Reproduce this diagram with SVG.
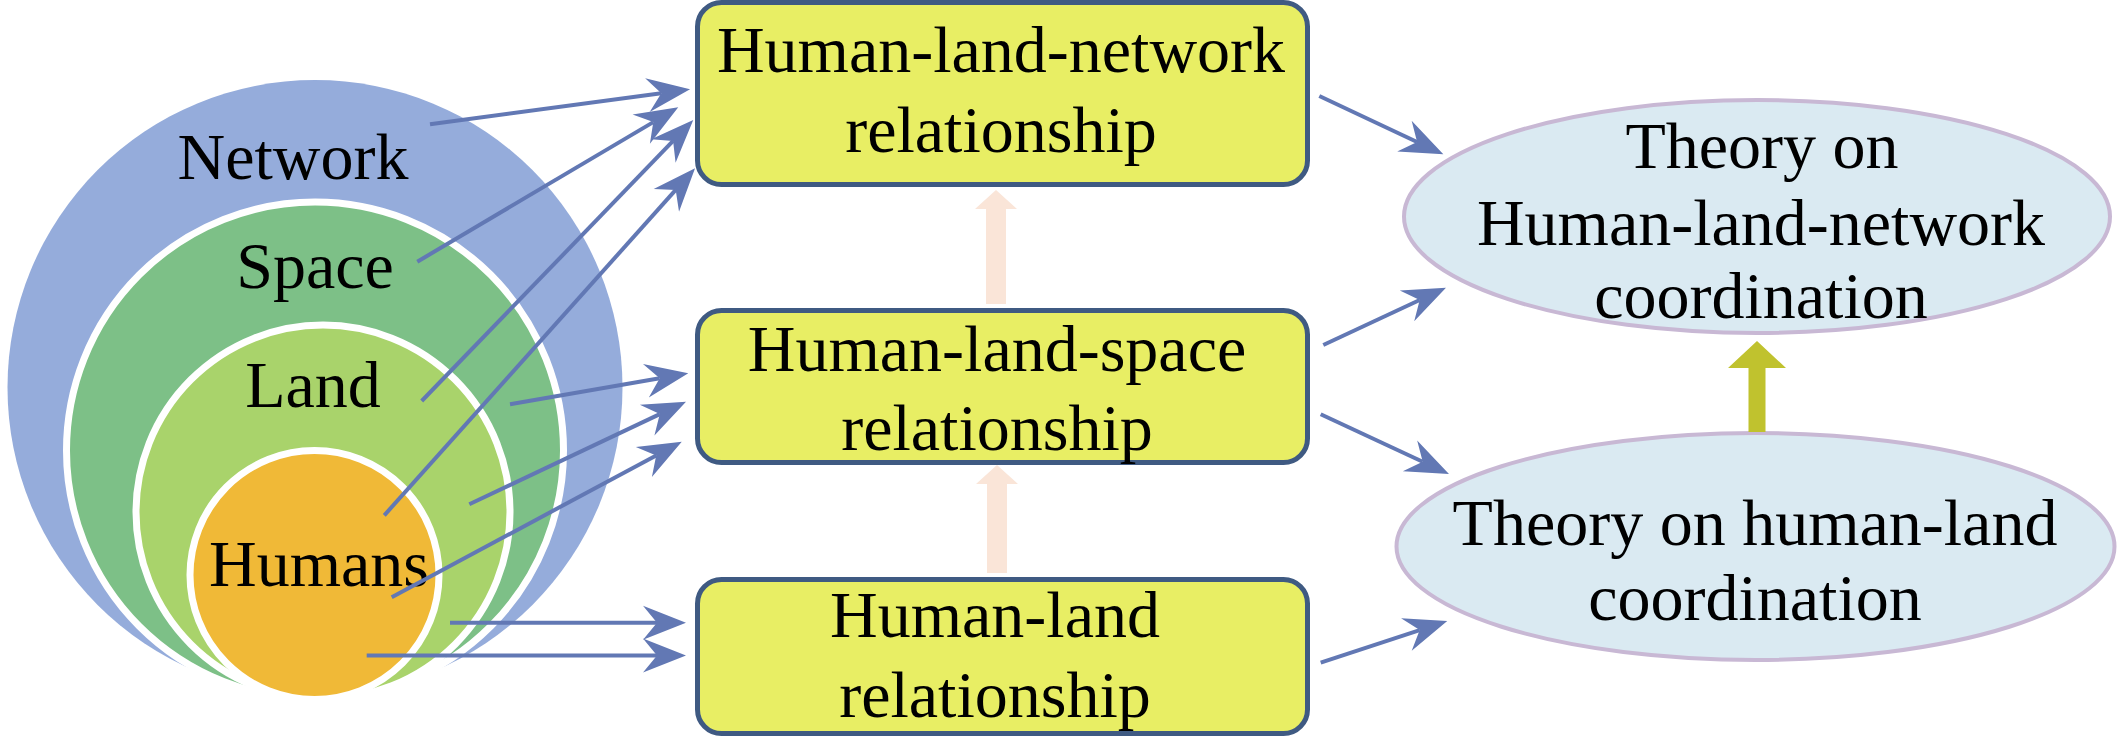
<svg xmlns="http://www.w3.org/2000/svg" width="2117" height="739" viewBox="0 0 2117 739">
<style>
.lbl{font-family:"Liberation Serif","Times New Roman",serif;font-size:66px;fill:#000;text-anchor:middle}
.ring{stroke:#fff;stroke-width:7}
.box{fill:#E8EE64;stroke:#3F5A82;stroke-width:5}
.ell{fill:#DAEAF2;stroke:#C8B8D4;stroke-width:4}
.con{stroke:#6278B4;stroke-width:4;fill:none;marker-end:url(#ah)}
</style>
<defs>
<marker id="ah" markerUnits="userSpaceOnUse" viewBox="-15 -18 45 36" markerWidth="45" markerHeight="36" refX="0" refY="0" orient="auto">
<path d="M29,0 L-14,-17 L0,0 L-14,17 Z" fill="#6278B4"/>
</marker>
</defs>
<rect width="2117" height="739" fill="#fff"/>
<g id="network">
<circle cx="315" cy="387.5" r="307.5" fill="#95ACDB"/>
<text class="lbl" x="293" y="179">Network</text>
</g>
<g id="space">
<circle class="ring" cx="315" cy="450.5" r="248.5" fill="#7DC087"/>
<text class="lbl" x="315" y="288">Space</text>
</g>
<g id="land">
<circle class="ring" cx="323" cy="512" r="187" fill="#A9D36B"/>
<text class="lbl" x="313" y="407">Land</text>
</g>
<g id="humans">
<circle class="ring" cx="314.5" cy="575" r="124.5" fill="#F0B937"/>
<text class="lbl" x="319" y="586">Humans</text>
</g>
<g id="hln-rel">
<rect class="box" x="697.5" y="2.5" width="610" height="182" rx="24"/>
<text class="lbl" x="1001" y="72">Human-land-network</text>
<text class="lbl" x="1001" y="152">relationship</text>
</g>
<g id="hls-rel">
<rect class="box" x="697.5" y="310.5" width="610" height="152" rx="24"/>
<text class="lbl" x="997" y="371">Human-land-space</text>
<text class="lbl" x="997" y="450">relationship</text>
</g>
<g id="hl-rel">
<rect class="box" x="697.5" y="579.5" width="610" height="154" rx="24"/>
<text class="lbl" x="995" y="637">Human-land</text>
<text class="lbl" x="995" y="717">relationship</text>
</g>
<g id="theory-hln">
<ellipse class="ell" cx="1757" cy="216.5" rx="353" ry="116.5"/>
<text class="lbl" x="1762" y="168">Theory on</text>
<text class="lbl" x="1761" y="245">Human-land-network</text>
<text class="lbl" x="1761" y="318">coordination</text>
</g>
<g id="theory-hl">
<ellipse class="ell" cx="1755.5" cy="546.5" rx="359" ry="113.5"/>
<text class="lbl" x="1755" y="545">Theory on human-land</text>
<text class="lbl" x="1755" y="620">coordination</text>
</g>
<g id="connectors">
<polygon points="996,190 1017,209 1006,209 1006,304 986,304 986,209 975,209" fill="#FAE5D8"/>
<polygon points="997,465 1018,484 1007,484 1007,573 987,573 987,484 976,484" fill="#FAE5D8"/>
<polygon points="1757,341 1786,368 1765.5,368 1765.5,432 1748.5,432 1748.5,368 1728,368" fill="#C0C22E"/>
<line class="con" x1="430" y1="124.3" x2="661.3" y2="93.2"/>
<line class="con" x1="417.3" y1="261.7" x2="653.3" y2="122.1"/>
<line class="con" x1="421.7" y1="401" x2="673.1" y2="140.9"/>
<line class="con" x1="384.3" y1="515.3" x2="675.7" y2="189.9"/>
<line class="con" x1="510" y1="404.3" x2="659.7" y2="378.3"/>
<line class="con" x1="469.3" y1="504.3" x2="659.8" y2="414.1"/>
<line class="con" x1="391.7" y1="597.3" x2="656.2" y2="455.4"/>
<line class="con" x1="450" y1="622.7" x2="657" y2="622.7"/>
<line class="con" x1="366.7" y1="655.5" x2="657" y2="655.5"/>
<line class="con" x1="1319.3" y1="96" x2="1417.1" y2="142"/>
<line class="con" x1="1323.3" y1="345" x2="1419.7" y2="300"/>
<line class="con" x1="1320.7" y1="414.3" x2="1422.7" y2="461.8"/>
<line class="con" x1="1320.7" y1="662.7" x2="1419.7" y2="630.1"/>
</g>
</svg>
